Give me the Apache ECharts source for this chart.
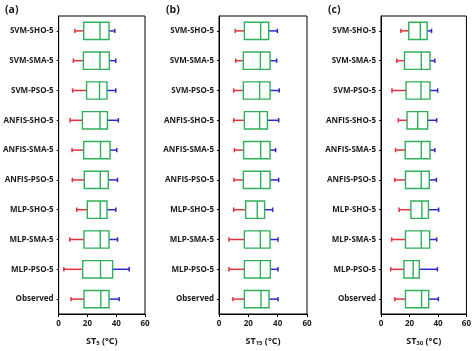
<!DOCTYPE html>
<html>
<head>
<meta charset="utf-8">
<script src="https://cdn.jsdelivr.net/npm/echarts@6/dist/echarts.min.js"></script>
<style>
  html, body { margin: 0; padding: 0; background: #fff; }
  #chart { width: 474px; height: 351px; }
</style>
</head>
<body>
<div id="chart"></div>
<script>
"use strict";

// model names, top to bottom
var categories = ['SVM-SHO-5', 'SVM-SMA-5', 'SVM-PSO-5', 'ANFIS-SHO-5', 'ANFIS-SMA-5',
    'ANFIS-PSO-5', 'MLP-SHO-5', 'MLP-SMA-5', 'MLP-PSO-5', 'Observed'];

// [low whisker, Q1, median, Q3, high whisker] per model
var st5Stats = [
    [11.3, 17.4, 28.7, 35.0, 39.0],
    [10.2, 17.2, 28.7, 35.2, 39.7],
    [9.7, 19.4, 28.4, 33.6, 39.7],
    [7.9, 16.5, 28.7, 33.9, 41.5],
    [9.3, 17.4, 29.1, 35.7, 40.4],
    [9.5, 17.8, 28.9, 34.5, 40.9],
    [12.6, 19.9, 28.9, 33.6, 39.7],
    [7.7, 17.6, 28.9, 35.0, 40.9],
    [3.6, 16.7, 29.1, 37.5, 49.0],
    [8.6, 17.6, 29.3, 35.0, 42.0]
];
var st15Stats = [
    [11.1, 17.3, 28.4, 33.9, 39.8],
    [11.4, 16.6, 28.2, 34.8, 39.3],
    [10.0, 16.6, 27.7, 34.8, 41.1],
    [10.0, 17.3, 27.7, 33.0, 40.7],
    [10.5, 16.8, 28.4, 34.8, 38.6],
    [10.2, 16.6, 28.4, 34.8, 40.7],
    [10.0, 18.2, 26.1, 31.1, 36.6],
    [6.8, 17.3, 28.2, 34.8, 40.2],
    [6.8, 17.3, 28.2, 35.0, 40.2],
    [9.5, 17.3, 28.6, 34.1, 40.2]
];
var st30Stats = [
    [14.0, 19.5, 27.6, 32.4, 35.5],
    [11.1, 16.5, 28.3, 34.4, 37.8],
    [7.7, 17.6, 28.1, 34.4, 39.8],
    [12.2, 18.3, 25.8, 32.8, 39.1],
    [10.2, 17.0, 28.3, 34.4, 37.8],
    [9.7, 17.2, 28.3, 33.9, 38.9],
    [12.7, 21.0, 28.7, 33.3, 40.5],
    [7.5, 17.2, 28.3, 34.2, 39.1],
    [6.8, 16.1, 22.6, 26.9, 39.6],
    [9.7, 17.2, 28.5, 33.5, 40.3]
];

var xTicks = [0, 20, 40, 60];
var panelLabels = ['(a)', '(b)', '(c)'];
var depthLabels = ['5', '15', '30'];

var GREEN = '#2fb05a', RED = '#e3323e', BLUE = '#2a2ac8';
var FONT = 'Open Sans';

var panels = [st5Stats, st15Stats, st30Stats];
var gridLefts = [57, 219, 381];

var myChart = echarts.init(document.getElementById('chart'), null, { renderer: 'canvas' });

function renderBox(params, api) {
    var c = api.value(0);
    var low = api.coord([api.value(1), c]);
    var q1 = api.coord([api.value(2), c]);
    var med = api.coord([api.value(3), c]);
    var q3 = api.coord([api.value(4), c]);
    var high = api.coord([api.value(5), c]);
    var h = api.size([0, 1])[1] * 0.58;
    var y = q1[1];
    var cap = 2.2;
    return {
        type: 'group',
        children: [
            { type: 'line', shape: { x1: low[0], y1: y, x2: q1[0], y2: y }, style: { stroke: RED, lineWidth: 1.5 } },
            { type: 'line', shape: { x1: low[0], y1: y - cap, x2: low[0], y2: y + cap }, style: { stroke: RED, lineWidth: 1.5 } },
            { type: 'line', shape: { x1: q3[0], y1: y, x2: high[0], y2: y }, style: { stroke: BLUE, lineWidth: 1.5 } },
            { type: 'line', shape: { x1: high[0], y1: y - cap, x2: high[0], y2: y + cap }, style: { stroke: BLUE, lineWidth: 1.5 } },
            { type: 'rect', shape: { x: q1[0], y: y - h / 2, width: q3[0] - q1[0], height: h }, style: { fill: 'none', stroke: GREEN, lineWidth: 1.4 } },
            { type: 'line', shape: { x1: med[0], y1: y - h / 2, x2: med[0], y2: y + h / 2 }, style: { stroke: GREEN, lineWidth: 1.4 } }
        ]
    };
}

var grids = [], xAxes = [], yAxes = [], series = [], titles = [];
panels.forEach(function (stats, i) {
    grids.push({ left: gridLefts[i], top: 16, width: 88, height: 306, show: true, borderColor: '#000', borderWidth: 1 });
    xAxes.push({
        type: 'value', gridIndex: i, min: xTicks[0], max: xTicks[xTicks.length - 1], interval: 20,
        axisLine: { show: true, lineStyle: { color: '#000', width: 1 } },
        axisTick: { show: true, length: 3, lineStyle: { color: '#000' } },
        splitLine: { show: false },
        axisLabel: { fontFamily: FONT, fontWeight: 'bold', fontSize: 8, color: '#1a1a1a', margin: 6 },
        name: '{a|ST}{s|' + depthLabels[i] + '}{a| (°C)}',
        nameLocation: 'middle', nameGap: 22,
        nameTextStyle: {
            rich: {
                a: { fontFamily: FONT, fontWeight: 'bold', fontSize: 9, color: '#1a1a1a' },
                s: { fontFamily: FONT, fontWeight: 'bold', fontSize: 6, color: '#1a1a1a', verticalAlign: 'bottom', padding: [4, 0, 0, 0] }
            }
        }
    });
    yAxes.push({
        type: 'category', gridIndex: i, data: categories, inverse: true,
        axisLine: { show: true, lineStyle: { color: '#000', width: 1 } },
        axisTick: { show: true, length: 2, alignWithLabel: true, lineStyle: { color: '#000' } },
        axisLabel: { fontFamily: FONT, fontWeight: 'bold', fontSize: 8, color: '#1a1a1a', margin: 5 }
    });
    series.push({
        type: 'custom', xAxisIndex: i, yAxisIndex: i,
        renderItem: renderBox,
        encode: { x: [1, 2, 3, 4, 5], y: 0 },
        data: stats.map(function (s, k) { return [k].concat(s); })
    });
    titles.push({
        text: panelLabels[i], left: [0, 161, 323][i], top: 0,
        textStyle: { fontFamily: FONT, fontWeight: 'bold', fontSize: 10.5, color: '#1a1a1a' }
    });
});

var option = {
    animation: false,
    title: titles,
    grid: grids,
    xAxis: xAxes,
    yAxis: yAxes,
    series: series
};

myChart.setOption(option);
</script>
</body>
</html>
